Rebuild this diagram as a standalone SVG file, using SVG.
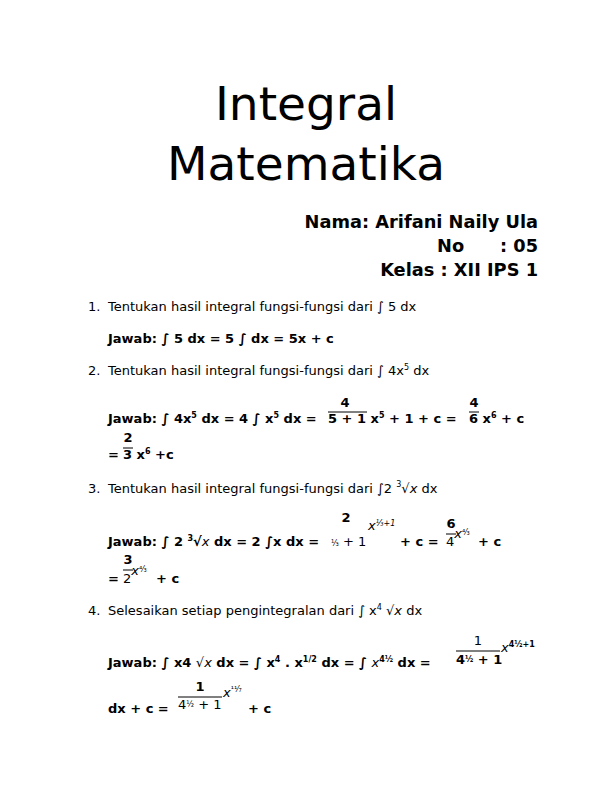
<svg xmlns="http://www.w3.org/2000/svg" width="612" height="792" viewBox="0 0 612 792">
<style>
text{font-family:"DejaVu Sans",sans-serif;fill:#000}
.t{font-size:47px}
.h{font-size:17.8px;font-weight:bold}
.q{font-size:13px}
.b{font-size:13px;font-weight:bold}
.s{font-size:8px}
.sb{font-size:8px;font-weight:bold}
line{stroke:#000;stroke-width:1}
</style>
<rect width="612" height="792" fill="#fff"/>
<g id="title">
<text class="t" x="306" y="120" text-anchor="middle">Integral</text>
<text class="t" x="306" y="180" text-anchor="middle">Matematika</text>
</g>
<g id="header">
<text class="h" x="538" y="228" text-anchor="end">Nama: Arifani Naily Ula</text>
<text class="h" x="437" y="252">No</text>
<text class="h" x="538" y="252" text-anchor="end">: 05</text>
<text class="h" x="538" y="276" text-anchor="end">Kelas  : XII IPS 1</text>
</g>
<g id="q1">
<text class="q" x="88" y="311">1.</text>
<text class="q" x="108" y="311">Tentukan hasil integral fungsi-fungsi dari  ∫ 5 dx</text>
<text class="b" x="108" y="343">Jawab:  ∫ 5 dx = 5 ∫ dx = 5x + c</text>
</g>
<g id="q2">
<text class="q" x="88" y="375">2.</text>
<text class="q" x="108" y="375">Tentukan hasil integral fungsi-fungsi dari ∫ 4x<tspan class="s" dy="-5">5</tspan><tspan dy="5"> dx</tspan></text>
<text class="b" x="108" y="423">Jawab: ∫ 4x<tspan class="sb" dy="-5">5</tspan><tspan dy="5"> dx = 4 ∫ x</tspan><tspan class="sb" dy="-5">5</tspan><tspan dy="5"> dx =</tspan></text>
<text class="b" x="345" y="407" text-anchor="middle">4</text>
<line x1="328" y1="412" x2="367" y2="412"/>
<text class="b" x="328" y="423">5 + 1 x<tspan class="sb" dy="-5">5</tspan><tspan dy="5"> + 1  + c =</tspan></text>
<text class="b" x="474" y="407" text-anchor="middle">4</text>
<line x1="469" y1="412" x2="479" y2="412"/>
<text class="b" x="469" y="423">6 x<tspan class="sb" dy="-5">6</tspan><tspan dy="5"> + c</tspan></text>
<text class="b" x="108" y="459">=</text>
<text class="b" x="128" y="442" text-anchor="middle">2</text>
<line x1="123" y1="448" x2="133" y2="448"/>
<text class="b" x="123" y="459">3 x<tspan class="sb" dy="-5">6</tspan><tspan dy="5"> +c</tspan></text>
</g>
<g id="q3">
<text class="q" x="88" y="493">3.</text>
<text class="q" x="108" y="493">Tentukan hasil integral fungsi-fungsi dari ∫2 <tspan class="s" dy="-6">3</tspan><tspan dy="6">√</tspan><tspan font-style="italic">x</tspan> dx</text>
<text class="b" x="108" y="546">Jawab: ∫ 2 <tspan class="sb" dy="-5">3</tspan><tspan dy="5">√</tspan><tspan font-weight="normal" font-style="italic">x</tspan> dx = 2 ∫x dx =</text>
<text class="b" x="346" y="522" text-anchor="middle">2</text>
<text class="q" x="331" y="546"><tspan class="s">⅓</tspan> + 1</text>
<text class="q" x="368" y="530" font-style="italic">x<tspan class="s" dy="-4">⅓+1</tspan></text>
<text class="b" x="400" y="546">+ c =</text>
<text class="b" x="451" y="528" text-anchor="middle">6</text>
<line x1="446" y1="534" x2="456" y2="534"/>
<text class="q" x="446" y="546">4<tspan font-style="italic" dy="-8">x</tspan><tspan class="s" dy="-3">⁴⁄₃</tspan></text>
<text class="b" x="478" y="546">+ c</text>
<text class="b" x="108" y="583">=</text>
<text class="b" x="128" y="564" text-anchor="middle">3</text>
<line x1="123" y1="570" x2="133" y2="570"/>
<text class="q" x="123" y="583">2<tspan font-style="italic" dy="-8">x</tspan><tspan class="s" dy="-3">⁴⁄₃</tspan></text>
<text class="b" x="156" y="583">+ c</text>
</g>
<g id="q4">
<text class="q" x="88" y="615">4.</text>
<text class="q" x="108" y="615">Selesaikan setiap pengintegralan dari  ∫ x<tspan class="s" dy="-5">4</tspan><tspan dy="5"> √</tspan><tspan font-style="italic">x</tspan> dx</text>
<text class="b" x="108" y="667">Jawab:  ∫ x4 <tspan font-weight="normal">√<tspan font-style="italic">x</tspan></tspan> dx = ∫ x<tspan class="sb" dy="-5">4</tspan><tspan dy="5"> . x</tspan><tspan class="sb" dy="-5">1/2</tspan><tspan dy="5"> dx = ∫ </tspan><tspan font-weight="normal" font-style="italic">x</tspan><tspan class="s" dy="-5">4½</tspan><tspan dy="5"> dx =</tspan></text>
<text class="q" x="478" y="645" text-anchor="middle">1</text>
<line x1="456" y1="651" x2="500" y2="651"/>
<text class="b" x="456" y="664">4<tspan class="s" dy="-2">½</tspan><tspan dy="2"> + 1</tspan></text>
<text class="q" x="501" y="652" font-style="italic">x<tspan class="sb" font-style="normal" dy="-5">4½+1</tspan></text>
<text class="b" x="108" y="713">dx  + c =</text>
<text class="b" x="200" y="691" text-anchor="middle">1</text>
<line x1="178" y1="697" x2="222" y2="697"/>
<text class="q" x="178" y="709">4<tspan class="s" dy="-2">½</tspan><tspan dy="2"> + 1</tspan></text>
<text class="q" x="223" y="697" font-style="italic">x<tspan class="s" font-style="normal" dy="-5">¹¹⁄₇</tspan></text>
<text class="b" x="248" y="713">+ c</text>
</g>
</svg>
